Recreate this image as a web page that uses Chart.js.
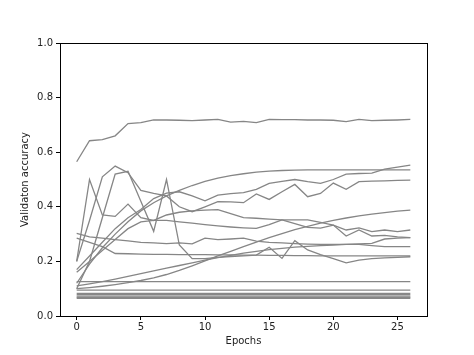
<!DOCTYPE html>
<html>
<head>
<meta charset="utf-8">
<script src="https://cdn.jsdelivr.net/npm/chart.js@4.4.1/dist/chart.umd.min.js"></script>
<style>
  html, body { margin: 0; padding: 0; background: #fff; }
  #wrap { width: 474px; height: 355px; }
</style>
</head>
<body>
<div id="wrap"><canvas id="accChart" width="474" height="355"></canvas></div>
<script>
const epochs = [0,1,2,3,4,5,6,7,8,9,10,11,12,13,14,15,16,17,18,19,20,21,22,23,24,25,26];
const xTicks = [0, 5, 10, 15, 20, 25];

// one array per run, validation accuracy per epoch
const runTop     = [0.565,0.642,0.646,0.66,0.705,0.708,0.718,0.718,0.717,0.716,0.718,0.72,0.71,0.713,0.708,0.72,0.719,0.719,0.718,0.718,0.717,0.712,0.72,0.716,0.717,0.718,0.72];
const runPlateau = [0.12,0.19,0.25,0.3,0.345,0.385,0.415,0.44,0.46,0.478,0.493,0.505,0.514,0.521,0.527,0.531,0.533,0.534,0.535,0.535,0.535,0.535,0.535,0.535,0.535,0.535,0.535];
const runClimb   = [0.17,0.22,0.27,0.32,0.36,0.39,0.43,0.45,0.455,0.44,0.422,0.443,0.448,0.452,0.464,0.486,0.493,0.5,0.492,0.486,0.5,0.52,0.522,0.523,0.538,0.545,0.553];
const runHump    = [0.2,0.35,0.51,0.549,0.525,0.46,0.449,0.44,0.4,0.382,0.4,0.419,0.418,0.415,0.447,0.427,0.455,0.482,0.437,0.449,0.487,0.464,0.492,0.494,0.495,0.497,0.498];
const runSpike   = [0.2,0.5,0.37,0.365,0.41,0.36,0.35,0.37,0.38,0.385,0.388,0.39,0.375,0.36,0.358,0.355,0.352,0.338,0.325,0.322,0.333,0.293,0.315,0.293,0.295,0.29,0.287];
const runMid     = [0.16,0.2,0.24,0.28,0.32,0.345,0.35,0.35,0.345,0.34,0.335,0.33,0.326,0.323,0.321,0.335,0.352,0.352,0.352,0.343,0.333,0.315,0.323,0.309,0.315,0.309,0.315];
const runZigzag  = [0.1,0.2,0.36,0.52,0.53,0.42,0.31,0.5,0.26,0.21,0.21,0.215,0.218,0.22,0.223,0.252,0.211,0.276,0.242,0.225,0.21,0.195,0.205,0.21,0.213,0.215,0.217];
const runSlide   = [0.303,0.29,0.285,0.28,0.275,0.27,0.268,0.265,0.268,0.264,0.285,0.28,0.282,0.285,0.274,0.27,0.268,0.265,0.263,0.262,0.262,0.262,0.262,0.258,0.254,0.254,0.254];
const runDrop    = [0.285,0.27,0.254,0.229,0.228,0.227,0.226,0.226,0.225,0.225,0.225,0.224,0.224,0.223,0.223,0.222,0.222,0.221,0.221,0.22,0.22,0.22,0.22,0.22,0.22,0.22,0.22];
const runSlowA   = [0.1,0.104,0.109,0.115,0.122,0.13,0.14,0.152,0.167,0.184,0.202,0.22,0.237,0.254,0.271,0.287,0.302,0.316,0.328,0.34,0.35,0.359,0.367,0.373,0.379,0.384,0.388];
const runSlowB   = [0.11,0.118,0.126,0.135,0.145,0.155,0.165,0.175,0.185,0.195,0.205,0.214,0.222,0.23,0.237,0.243,0.248,0.252,0.255,0.258,0.26,0.262,0.264,0.266,0.282,0.285,0.287];
const runFlat1   = [0.126,0.126,0.126,0.126,0.126,0.126,0.126,0.126,0.126,0.126,0.126,0.126,0.126,0.126,0.126,0.126,0.126,0.126,0.126,0.126,0.126,0.126,0.126,0.126,0.126,0.126,0.126];
const runFlat2   = [0.095,0.095,0.095,0.095,0.095,0.095,0.095,0.095,0.095,0.095,0.095,0.095,0.095,0.095,0.095,0.095,0.095,0.095,0.095,0.095,0.095,0.095,0.095,0.095,0.095,0.095,0.095];
const runFlat3   = [0.083,0.083,0.083,0.083,0.083,0.083,0.083,0.083,0.083,0.083,0.083,0.083,0.083,0.083,0.083,0.083,0.083,0.083,0.083,0.083,0.083,0.083,0.083,0.083,0.083,0.083,0.083];
const runFlat4   = [0.078,0.078,0.078,0.078,0.078,0.078,0.078,0.078,0.078,0.078,0.078,0.078,0.078,0.078,0.078,0.078,0.078,0.078,0.078,0.078,0.078,0.078,0.078,0.078,0.078,0.078,0.078];
const runFlat5   = [0.073,0.073,0.073,0.073,0.073,0.073,0.073,0.073,0.073,0.073,0.073,0.073,0.073,0.073,0.073,0.073,0.073,0.073,0.073,0.073,0.073,0.073,0.073,0.073,0.073,0.073,0.073];
const runFlat6   = [0.068,0.068,0.068,0.068,0.068,0.068,0.068,0.068,0.068,0.068,0.068,0.068,0.068,0.068,0.068,0.068,0.068,0.068,0.068,0.068,0.068,0.068,0.068,0.068,0.068,0.068,0.068];
const runFlat7   = [0.065,0.065,0.065,0.065,0.065,0.065,0.065,0.065,0.065,0.065,0.065,0.065,0.065,0.065,0.065,0.065,0.065,0.065,0.065,0.065,0.065,0.065,0.065,0.065,0.065,0.065,0.065];

const runs = [runTop, runPlateau, runClimb, runHump, runSpike, runMid, runZigzag, runSlide, runDrop,
  runSlowA, runSlowB, runFlat1, runFlat2, runFlat3, runFlat4, runFlat5, runFlat6, runFlat7];

const font = { family: 'DejaVu Sans', size: 10 };

// matplotlib-style box around the plot area
const frame = {
  id: 'frame',
  afterDraw(chart) {
    const { ctx, chartArea: a } = chart;
    ctx.save();
    ctx.strokeStyle = '#000';
    ctx.lineWidth = 1;
    ctx.strokeRect(Math.round(a.left) + 0.5, Math.round(a.top) + 0.5,
      Math.round(a.right - a.left), Math.round(a.bottom - a.top));
    ctx.restore();
  },
};

new Chart(document.getElementById('accChart'), {
  type: 'line',
  data: {
    datasets: runs.map((vals) => ({
      data: vals.map((v, i) => ({ x: epochs[i], y: v })),
      borderColor: '#868686',
      borderWidth: 1.3,
      pointRadius: 0,
      tension: 0,
      fill: false,
    })),
  },
  options: {
    responsive: false,
    animation: false,
    layout: { padding: { left: 0, top: 43, right: 47, bottom: 0 } },
    plugins: { legend: { display: false }, tooltip: { enabled: false } },
    scales: {
      x: {
        type: 'linear',
        min: -1.3,
        max: 27.3,
        afterBuildTicks: (axis) => { axis.ticks = xTicks.map((v) => ({ value: v })); },
        afterFit: (axis) => { axis.height = 39; },
        border: { display: false },
        grid: { drawOnChartArea: false, drawTicks: true, tickLength: 4, color: '#000' },
        ticks: { font, color: '#222', padding: 1, maxRotation: 0 },
        title: { display: true, text: 'Epochs', font, color: '#222', padding: { top: 0, bottom: 8 } },
      },
      y: {
        min: 0,
        max: 1,
        afterFit: (axis) => { axis.width = 60; },
        border: { display: false },
        grid: { drawOnChartArea: false, drawTicks: true, tickLength: 4, color: '#000' },
        ticks: { stepSize: 0.2, font, color: '#222', padding: 3, callback: (v) => Number(v).toFixed(1) },
        title: { display: true, text: 'Validaton accuracy', font, color: '#222', padding: { top: 19, bottom: 0 } },
      },
    },
  },
  plugins: [frame],
});
</script>
</body>
</html>
